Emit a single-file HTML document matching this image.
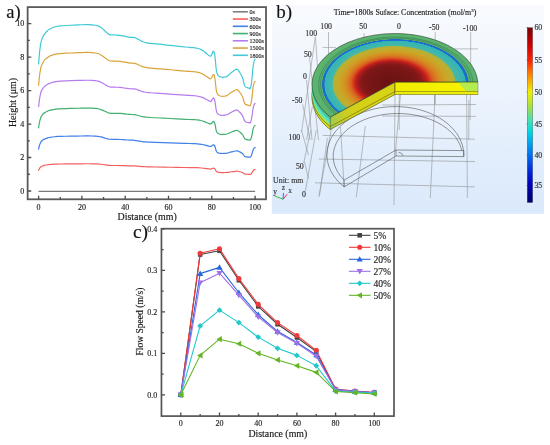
<!DOCTYPE html>
<html><head><meta charset="utf-8"><style>
html,body{margin:0;padding:0;background:#fff;}
svg{display:block;will-change:transform;}
text{font-family:"Liberation Serif", serif;stroke:#262626;stroke-width:0.15px;}
</style></head><body>
<svg width="550" height="445" viewBox="0 0 550 445">
<defs>
<linearGradient id="bgB" x1="0" y1="0" x2="0" y2="1">
 <stop offset="0" stop-color="#f9fbfe"/><stop offset="0.35" stop-color="#eef5fd"/><stop offset="0.7" stop-color="#e3eefc"/><stop offset="1" stop-color="#dae9fb"/>
</linearGradient>
<linearGradient id="cbar" x1="0" y1="0" x2="0" y2="1">
 <stop offset="0" stop-color="#7a0000"/><stop offset="0.10" stop-color="#d00000"/><stop offset="0.19" stop-color="#ff2400"/>
 <stop offset="0.26" stop-color="#ff7a00"/><stop offset="0.32" stop-color="#f8be00"/><stop offset="0.37" stop-color="#f0f000"/>
 <stop offset="0.45" stop-color="#a8e040"/><stop offset="0.52" stop-color="#50e0a8"/><stop offset="0.59" stop-color="#00dce0"/>
 <stop offset="0.66" stop-color="#00a4f0"/><stop offset="0.74" stop-color="#0066f0"/><stop offset="0.81" stop-color="#0030e0"/>
 <stop offset="0.89" stop-color="#0000c0"/><stop offset="1" stop-color="#00006c"/>
</linearGradient>
<radialGradient id="disk" gradientUnits="userSpaceOnUse" cx="396.5" cy="85" r="83" fx="387.5" fy="78.5" gradientTransform="translate(395,85) scale(1,0.618) translate(-395,-85)">
 <stop offset="0" stop-color="#6c1212"/><stop offset="0.28" stop-color="#781616"/><stop offset="0.36" stop-color="#861818"/>
 <stop offset="0.405" stop-color="#a81c1c"/><stop offset="0.432" stop-color="#c81c1c"/><stop offset="0.46" stop-color="#d43a1c"/>
 <stop offset="0.495" stop-color="#d86220"/><stop offset="0.545" stop-color="#d88222"/><stop offset="0.60" stop-color="#d09a22"/><stop offset="0.655" stop-color="#c8a828"/>
 <stop offset="0.71" stop-color="#bab032"/><stop offset="0.735" stop-color="#a8b23c"/><stop offset="0.745" stop-color="#46b8a8"/>
 <stop offset="0.848" stop-color="#32b4b6"/><stop offset="0.855" stop-color="#1e70d2"/><stop offset="0.878" stop-color="#1c64d0"/>
 <stop offset="0.886" stop-color="#56b272"/><stop offset="1" stop-color="#5cb46e"/>
</radialGradient>
<linearGradient id="rface" gradientUnits="userSpaceOnUse" x1="395" y1="0" x2="478" y2="0">
 <stop offset="0" stop-color="#f2ee00"/><stop offset="1" stop-color="#f6f200"/>
</linearGradient>
<linearGradient id="dface" gradientUnits="userSpaceOnUse" x1="330.3" y1="0" x2="395" y2="0">
 <stop offset="0" stop-color="#a0cc50"/><stop offset="0.18" stop-color="#c4cc28"/><stop offset="0.35" stop-color="#d4d018"/><stop offset="1" stop-color="#d8d414"/>
</linearGradient>
<clipPath id="leftclip"><rect x="270" y="0" width="60.3" height="220"/></clipPath>
<clipPath id="panelclip"><rect x="271.8" y="4.5" width="272.2" height="209.3"/></clipPath>
</defs>
<g id="panelB">
<rect x="271.8" y="4.5" width="272.2" height="209.3" fill="url(#bgB)"/>
<g clip-path="url(#panelclip)">
<g stroke="#7c7c7c" stroke-width="0.6" fill="none" opacity="0.8">
<line x1="328.5" y1="32.0" x2="328.5" y2="56.0"/>
<line x1="364.0" y1="33.0" x2="364.0" y2="42.0"/>
<line x1="399.6" y1="33.0" x2="399.6" y2="40.0"/>
<line x1="435.2" y1="32.0" x2="435.2" y2="60.0"/>
<line x1="470.7" y1="32.0" x2="470.7" y2="60.0"/>
<line x1="322.4" y1="47.4" x2="336.0" y2="47.4"/>
<line x1="455.0" y1="48.9" x2="478.0" y2="48.9"/>
<line x1="395.0" y1="95.0" x2="394.0" y2="205.0"/>
<line x1="435.2" y1="92.0" x2="430.3" y2="198.0"/>
<line x1="466.6" y1="92.0" x2="467.4" y2="198.0"/>
<line x1="468.8" y1="100.0" x2="468.8" y2="140.0"/>
<line x1="470.7" y1="60.0" x2="470.0" y2="120.0"/>
<line x1="435.2" y1="60.0" x2="435.2" y2="104.0"/>
<line x1="382.0" y1="105.0" x2="476.0" y2="104.5"/>
<line x1="382.0" y1="116.0" x2="476.0" y2="116.4"/>
<line x1="401.1" y1="88.0" x2="395.5" y2="150.6"/>
<line x1="399.2" y1="88.0" x2="399.2" y2="130.0"/>
<line x1="434.5" y1="95.0" x2="434.5" y2="104.5"/>
<line x1="322.7" y1="135.4" x2="475.0" y2="139.2"/>
<line x1="318.8" y1="159.0" x2="475.0" y2="161.6"/>
<line x1="314.9" y1="182.8" x2="475.0" y2="186.9"/>
<line x1="340.5" y1="127.0" x2="344.1" y2="187.0"/>
<line x1="331.7" y1="127.0" x2="318.8" y2="197.0"/>
<line x1="365.3" y1="125.9" x2="356.3" y2="197.0"/>
<line x1="315.4" y1="36.3" x2="301.5" y2="132.0"/>
<line x1="315.6" y1="38.0" x2="318.0" y2="75.0"/>
<line x1="309.5" y1="57.0" x2="318.5" y2="140.0"/>
<line x1="306.6" y1="80.0" x2="312.0" y2="140.0"/>
<line x1="302.7" y1="104.6" x2="310.0" y2="140.0"/>
<line x1="312.2" y1="106.9" x2="306.6" y2="140.0"/>
<line x1="301.4" y1="130.0" x2="308.5" y2="155.2"/>
<line x1="310.8" y1="130.0" x2="303.7" y2="163.0"/>
<line x1="316.3" y1="130.0" x2="305.3" y2="191.4"/>
<line x1="304.5" y1="161.5" x2="308.5" y2="178.8"/>
<line x1="327.4" y1="137.9" x2="319.5" y2="195.4"/>
</g>
<g stroke="#444" stroke-width="0.55" fill="none">
<path d="M463.8,156.6 A68.5,48.3 0 1,0 344.1,186.9"/>
<path d="M461.8,150.6 A64.6,42.8 0 1,0 344.1,180.1"/>
<path d="M344.1,180.1 L396,150 L463.8,150.6 M344.1,186.9 L396,156 L463.8,156.6 M344.1,180.1 V186.9 M463.8,150.6 V156.6 M396,150 V156"/>
<path d="M398.5,152.3 A5,4 0 0,1 403,155.8"/>
</g>
<g clip-path="url(#leftclip)">
<ellipse cx="395.0" cy="97.5" rx="83.0" ry="51.3" fill="#e2de1c" stroke="#404020" stroke-width="0.6"/>
<ellipse cx="395.0" cy="94.5" rx="83.0" ry="51.3" fill="#b0e840" stroke="#404020" stroke-width="0.5"/>
<ellipse cx="395.0" cy="91.5" rx="83.0" ry="51.3" fill="#50e6c8" />
<ellipse cx="395.0" cy="88.0" rx="83.0" ry="51.3" fill="#50c49a" />
</g>
<path d="M395.0,82.0 L330.3,117.0 L330.3,129.5 L395.0,94.5 Z" fill="url(#dface)" stroke="#303010" stroke-width="0.5"/>
<path d="M330.3,126.5 L395.0,91.5" stroke="#505010" stroke-width="0.5"/>
<path d="M395.0,82.0 L477.8,82.0 L477.8,94.5 L395.0,94.5 Z" fill="url(#rface)" stroke="#303010" stroke-width="0.5"/>
<rect x="395.3" y="91.8" width="82.2" height="2.4" fill="#ecec10"/>
<path d="M458,82.3 L477.5,82.3 L477.5,91.3 L467,91.3 C463,89.5 461,85 458,82.3 Z" fill="#b4ec50"/>
<path d="M395.0,91.5 L477.8,91.5" stroke="#606010" stroke-width="0.5"/>
<path d="M395.0,82.0 L477.8,82.0 A83.0,51.3 0 1,0 330.3,117.0 Z" fill="url(#disk)" stroke="#2a3a2a" stroke-width="0.6"/>
<path d="M470.64,82.00 A75.12,46.43 0 1,0 336.81,113.48" fill="none" stroke="#2e5a38" stroke-width="0.45" opacity="0.8"/>
<path d="M472.93,82.00 A77.19,47.71 0 1,0 335.30,114.29" fill="none" stroke="#2e5a38" stroke-width="0.45" opacity="0.8"/>
</g>
<text x="326.1" y="29.0" font-size="7.8" text-anchor="middle" fill="#333">100</text>
<text x="363.2" y="29.0" font-size="7.8" text-anchor="middle" fill="#333">50</text>
<text x="399.0" y="29.0" font-size="7.8" text-anchor="middle" fill="#333">0</text>
<text x="434.3" y="29.6" font-size="7.8" text-anchor="middle" fill="#333">-50</text>
<text x="470.1" y="30.6" font-size="7.8" text-anchor="middle" fill="#333">-100</text>
<text x="311.2" y="35.8" font-size="7.8" text-anchor="middle" fill="#333">100</text>
<text x="307.8" y="57.0" font-size="7.8" text-anchor="middle" fill="#333">50</text>
<text x="304.9" y="79.0" font-size="7.8" text-anchor="middle" fill="#333">0</text>
<text x="297.3" y="103.2" font-size="7.8" text-anchor="middle" fill="#333">-50</text>
<text x="294.4" y="140.1" font-size="7.8" text-anchor="middle" fill="#333">100</text>
<text x="299.8" y="168.7" font-size="7.8" text-anchor="middle" fill="#333">50</text>
<text x="304.0" y="196.7" font-size="7.8" text-anchor="middle" fill="#333">0</text>
<text x="405" y="15" font-size="8" text-anchor="middle" fill="#222" textLength="142.6" lengthAdjust="spacingAndGlyphs">Time=1800s Suface: Concentration (mol/m<tspan font-size="5" dy="-3">3</tspan><tspan dy="3">)</tspan></text>
<rect x="527.3" y="27.7" width="5.3" height="174.8" fill="url(#cbar)" stroke="#222" stroke-width="0.3"/>
<text x="534.4" y="30.3" font-size="7.8" fill="#333">60</text>
<line x1="526.5" y1="27.6" x2="527.3" y2="27.6" stroke="#333" stroke-width="0.5"/>
<text x="534.4" y="62.6" font-size="7.8" fill="#333">55</text>
<line x1="526.5" y1="59.9" x2="527.3" y2="59.9" stroke="#333" stroke-width="0.5"/>
<text x="534.4" y="94.5" font-size="7.8" fill="#333">50</text>
<line x1="526.5" y1="91.8" x2="527.3" y2="91.8" stroke="#333" stroke-width="0.5"/>
<text x="534.4" y="126.5" font-size="7.8" fill="#333">45</text>
<line x1="526.5" y1="123.8" x2="527.3" y2="123.8" stroke="#333" stroke-width="0.5"/>
<text x="534.4" y="157.8" font-size="7.8" fill="#333">40</text>
<line x1="526.5" y1="155.1" x2="527.3" y2="155.1" stroke="#333" stroke-width="0.5"/>
<text x="534.4" y="188.2" font-size="7.8" fill="#333">35</text>
<line x1="526.5" y1="185.5" x2="527.3" y2="185.5" stroke="#333" stroke-width="0.5"/>
<text x="273.1" y="182.6" font-size="8" fill="#444" textLength="30.2" lengthAdjust="spacingAndGlyphs">Unit: mm</text>
<line x1="283" y1="199.2" x2="274.9" y2="196.1" stroke="#30c030" stroke-width="1"/>
<line x1="283" y1="199.2" x2="283.5" y2="193" stroke="#3070e0" stroke-width="1"/>
<line x1="283" y1="199.2" x2="287.1" y2="194.3" stroke="#e02060" stroke-width="1"/>
<text x="275" y="194" font-size="7.5" text-anchor="middle" fill="#444">y</text>
<text x="283.5" y="190.4" font-size="7.5" text-anchor="middle" fill="#444">z</text>
<text x="290.2" y="193.2" font-size="7.5" text-anchor="middle" fill="#444">x</text>
<text x="276.2" y="18.4" font-size="19" fill="#111">b)</text>
</g>
<g id="panelA">
<path d="M38.60,191.4 H255.10" stroke="#7a7a7a" stroke-width="1.15"/>
<path d="M38.60,170.32 C38.86,169.80 38.95,169.44 39.47,168.57 C39.99,167.69 39.81,167.99 40.33,167.39 C40.85,166.80 40.42,167.07 41.20,166.59 C41.98,166.11 41.76,166.22 42.93,165.80 C44.10,165.39 43.86,165.49 45.09,165.22 C46.33,164.94 45.74,165.08 47.04,164.88 C48.34,164.68 47.15,164.76 49.42,164.55 C51.70,164.33 51.37,164.33 54.62,164.16 C57.87,164.00 55.51,164.08 60.25,164.00 C64.99,163.91 63.93,163.94 70.43,163.88 C76.92,163.82 76.51,163.83 81.90,163.79 C87.29,163.76 84.82,163.75 88.40,163.76 C91.97,163.78 91.08,163.78 93.81,163.85 C96.54,163.91 95.34,163.84 97.49,163.96 C99.63,164.09 98.94,164.04 100.95,164.26 C102.97,164.49 102.38,164.45 104.20,164.72 C106.02,164.98 105.33,164.92 107.01,165.13 C108.70,165.35 107.62,165.32 109.83,165.44 C112.04,165.55 111.32,165.47 114.38,165.50 C117.43,165.54 116.76,165.49 120.00,165.55 C123.25,165.62 122.21,165.62 125.20,165.72 C128.19,165.82 127.17,165.82 129.96,165.89 C132.76,165.95 132.04,165.84 134.51,165.94 C136.98,166.04 135.98,166.04 138.19,166.22 C140.40,166.41 139.60,166.40 141.87,166.56 C144.14,166.72 143.17,166.66 145.77,166.76 C148.37,166.86 145.20,166.79 150.53,166.89 C155.86,167.00 155.66,166.97 163.52,167.11 C171.38,167.25 168.87,167.22 176.73,167.36 C184.59,167.50 184.20,167.48 189.72,167.56 C195.24,167.65 191.56,167.52 195.13,167.65 C198.70,167.77 198.05,167.68 201.62,167.98 C205.20,168.28 204.37,168.33 207.04,168.65 C209.70,168.97 208.94,169.06 210.50,169.03 C212.06,169.01 211.32,168.82 212.23,168.57 C213.14,168.31 212.82,168.15 213.53,168.20 C214.25,168.25 214.09,168.33 214.61,168.73 C215.13,169.13 214.74,168.75 215.26,169.54 C215.78,170.33 215.70,170.62 216.35,171.36 C217.00,172.10 216.71,171.71 217.43,172.00 C218.14,172.29 217.56,172.17 218.73,172.33 C219.90,172.49 219.51,172.48 221.33,172.53 C223.14,172.58 222.97,172.56 224.79,172.50 C226.61,172.44 225.37,172.56 227.39,172.33 C229.40,172.11 229.10,172.06 231.50,171.75 C233.90,171.43 233.64,171.45 235.40,171.29 C237.15,171.14 236.31,171.17 237.35,171.24 C238.39,171.31 237.43,171.16 238.86,171.53 C240.29,171.90 240.68,171.92 242.11,172.47 C243.54,173.01 242.78,172.87 243.63,173.34 C244.47,173.80 243.95,173.73 244.92,174.01 C245.90,174.28 245.64,174.16 246.87,174.26 C248.11,174.36 247.93,174.34 249.04,174.34 C250.14,174.34 249.71,174.68 250.55,174.26 C251.40,173.83 251.01,174.06 251.85,172.92 C252.70,171.78 252.39,171.47 253.37,170.46 C254.34,169.44 254.58,169.81 255.10,169.54" fill="none" stroke="#f46060" stroke-width="1.2" stroke-linejoin="round" stroke-linecap="round"/>
<path d="M38.60,149.05 C38.86,147.99 38.95,147.29 39.47,145.53 C39.99,143.77 39.81,144.37 40.33,143.19 C40.85,142.00 40.42,142.54 41.20,141.58 C41.98,140.63 41.76,140.83 42.93,140.01 C44.10,139.18 43.86,139.39 45.09,138.84 C46.33,138.28 45.74,138.57 47.04,138.17 C48.34,137.76 47.15,137.93 49.42,137.50 C51.70,137.06 51.37,137.06 54.62,136.73 C57.87,136.39 55.51,136.56 60.25,136.39 C64.99,136.22 63.93,136.28 70.43,136.16 C76.92,136.04 76.51,136.06 81.90,135.99 C87.29,135.92 84.82,135.89 88.40,135.92 C91.97,135.95 91.08,135.97 93.81,136.09 C96.54,136.21 95.34,136.07 97.49,136.32 C99.63,136.58 98.94,136.48 100.95,136.93 C102.97,137.38 102.38,137.31 104.20,137.83 C106.02,138.35 105.33,138.24 107.01,138.67 C108.70,139.10 107.62,139.05 109.83,139.27 C112.04,139.49 111.32,139.33 114.38,139.40 C117.43,139.47 116.76,139.37 120.00,139.51 C123.25,139.64 122.21,139.64 125.20,139.84 C128.19,140.04 127.17,140.04 129.96,140.17 C132.76,140.31 132.04,140.07 134.51,140.28 C136.98,140.48 135.98,140.47 138.19,140.84 C140.40,141.22 139.60,141.19 141.87,141.51 C144.14,141.84 143.17,141.71 145.77,141.92 C148.37,142.12 145.20,141.97 150.53,142.18 C155.86,142.39 155.66,142.34 163.52,142.62 C171.38,142.90 168.87,142.85 176.73,143.12 C184.59,143.39 184.20,143.35 189.72,143.52 C195.24,143.69 191.56,143.44 195.13,143.69 C198.70,143.94 198.05,143.76 201.62,144.36 C205.20,144.96 204.37,145.07 207.04,145.70 C209.70,146.33 208.94,146.52 210.50,146.47 C212.06,146.42 211.32,146.03 212.23,145.53 C213.14,145.03 212.82,144.69 213.53,144.79 C214.25,144.90 214.09,145.06 214.61,145.87 C215.13,146.67 214.74,145.90 215.26,147.47 C215.78,149.05 215.70,149.65 216.35,151.12 C217.00,152.60 216.71,151.81 217.43,152.39 C218.14,152.98 217.56,152.74 218.73,153.06 C219.90,153.39 219.51,153.37 221.33,153.47 C223.14,153.57 222.97,153.52 224.79,153.40 C226.61,153.28 225.37,153.52 227.39,153.06 C229.40,152.61 229.10,152.52 231.50,151.89 C233.90,151.27 233.64,151.29 235.40,150.99 C237.15,150.69 236.31,150.75 237.35,150.89 C238.39,151.03 237.43,150.72 238.86,151.46 C240.29,152.19 240.68,152.25 242.11,153.33 C243.54,154.42 242.78,154.15 243.63,155.07 C244.47,156.00 243.95,155.86 244.92,156.41 C245.90,156.96 245.64,156.71 246.87,156.91 C248.11,157.12 247.93,157.08 249.04,157.08 C250.14,157.08 249.71,157.77 250.55,156.91 C251.40,156.06 251.01,156.52 251.85,154.24 C252.70,151.96 252.39,151.34 253.37,149.31 C254.34,147.29 254.58,148.03 255.10,147.47" fill="none" stroke="#4080e8" stroke-width="1.2" stroke-linejoin="round" stroke-linecap="round"/>
<path d="M38.60,127.77 C38.86,126.19 38.95,125.13 39.47,122.50 C39.99,119.86 39.81,120.76 40.33,118.98 C40.85,117.20 40.42,118.00 41.20,116.57 C41.98,115.14 41.76,115.45 42.93,114.21 C44.10,112.98 43.86,113.28 45.09,112.45 C46.33,111.62 45.74,112.05 47.04,111.45 C48.34,110.85 47.15,111.09 49.42,110.44 C51.70,109.80 51.37,109.79 54.62,109.29 C57.87,108.79 55.51,109.04 60.25,108.79 C64.99,108.53 63.93,108.62 70.43,108.44 C76.92,108.25 76.51,108.29 81.90,108.18 C87.29,108.08 84.82,108.04 88.40,108.08 C91.97,108.13 91.08,108.15 93.81,108.34 C96.54,108.52 95.34,108.31 97.49,108.69 C99.63,109.06 98.94,108.91 100.95,109.59 C102.97,110.27 102.38,110.16 104.20,110.95 C106.02,111.73 105.33,111.55 107.01,112.20 C108.70,112.85 107.62,112.77 109.83,113.11 C112.04,113.44 111.32,113.20 114.38,113.31 C117.43,113.41 116.76,113.26 120.00,113.46 C123.25,113.65 122.21,113.66 125.20,113.96 C128.19,114.26 127.17,114.27 129.96,114.46 C132.76,114.66 132.04,114.31 134.51,114.61 C136.98,114.91 135.98,114.91 138.19,115.47 C140.40,116.02 139.60,115.99 141.87,116.47 C144.14,116.95 143.17,116.77 145.77,117.07 C148.37,117.37 145.20,117.16 150.53,117.48 C155.86,117.79 155.66,117.71 163.52,118.13 C171.38,118.55 168.87,118.47 176.73,118.88 C184.59,119.29 184.20,119.23 189.72,119.48 C195.24,119.74 191.56,119.36 195.13,119.74 C198.70,120.11 198.05,119.84 201.62,120.74 C205.20,121.64 204.37,121.80 207.04,122.75 C209.70,123.70 208.94,123.98 210.50,123.90 C212.06,123.83 211.32,123.25 212.23,122.50 C213.14,121.74 212.82,121.24 213.53,121.39 C214.25,121.54 214.09,121.79 214.61,123.00 C215.13,124.20 214.74,123.04 215.26,125.41 C215.78,127.78 215.70,128.67 216.35,130.88 C217.00,133.10 216.71,131.92 217.43,132.79 C218.14,133.67 217.56,133.31 218.73,133.80 C219.90,134.28 219.51,134.25 221.33,134.40 C223.14,134.55 222.97,134.48 224.79,134.30 C226.61,134.12 225.37,134.47 227.39,133.80 C229.40,133.12 229.10,132.97 231.50,132.04 C233.90,131.10 233.64,131.14 235.40,130.68 C237.15,130.23 236.31,130.32 237.35,130.53 C238.39,130.74 237.43,130.29 238.86,131.39 C240.29,132.49 240.68,132.57 242.11,134.20 C243.54,135.83 242.78,135.42 243.63,136.81 C244.47,138.20 243.95,137.99 244.92,138.82 C245.90,139.65 245.64,139.27 246.87,139.57 C248.11,139.87 247.93,139.82 249.04,139.82 C250.14,139.82 249.71,140.85 250.55,139.57 C251.40,138.29 251.01,138.97 251.85,135.55 C252.70,132.13 252.39,131.22 253.37,128.17 C254.34,125.13 254.58,126.24 255.10,125.41" fill="none" stroke="#40b070" stroke-width="1.2" stroke-linejoin="round" stroke-linecap="round"/>
<path d="M38.60,106.49 C38.86,104.38 38.95,102.98 39.47,99.46 C39.99,95.95 39.81,97.15 40.33,94.78 C40.85,92.41 40.42,93.47 41.20,91.56 C41.98,89.65 41.76,90.06 42.93,88.41 C44.10,86.77 43.86,87.18 45.09,86.07 C46.33,84.97 45.74,85.54 47.04,84.73 C48.34,83.93 47.15,84.26 49.42,83.39 C51.70,82.53 51.37,82.52 54.62,81.85 C57.87,81.19 55.51,81.52 60.25,81.18 C64.99,80.84 63.93,80.96 70.43,80.71 C76.92,80.47 76.51,80.52 81.90,80.38 C87.29,80.24 84.82,80.19 88.40,80.25 C91.97,80.31 91.08,80.34 93.81,80.58 C96.54,80.82 95.34,80.55 97.49,81.05 C99.63,81.55 98.94,81.35 100.95,82.25 C102.97,83.16 102.38,83.02 104.20,84.06 C106.02,85.11 105.33,84.87 107.01,85.74 C108.70,86.60 107.62,86.50 109.83,86.94 C112.04,87.38 111.32,87.07 114.38,87.21 C117.43,87.35 116.76,87.15 120.00,87.41 C123.25,87.67 122.21,87.68 125.20,88.08 C128.19,88.48 127.17,88.49 129.96,88.75 C132.76,89.01 132.04,88.55 134.51,88.95 C136.98,89.35 135.98,89.35 138.19,90.09 C140.40,90.83 139.60,90.79 141.87,91.43 C144.14,92.07 143.17,91.83 145.77,92.23 C148.37,92.63 145.20,92.35 150.53,92.77 C155.86,93.19 155.66,93.08 163.52,93.64 C171.38,94.20 168.87,94.10 176.73,94.64 C184.59,95.18 184.20,95.10 189.72,95.45 C195.24,95.79 191.56,95.28 195.13,95.78 C198.70,96.28 198.05,95.91 201.62,97.12 C205.20,98.32 204.37,98.53 207.04,99.80 C209.70,101.06 208.94,101.44 210.50,101.34 C212.06,101.24 211.32,100.47 212.23,99.46 C213.14,98.46 212.82,97.79 213.53,97.99 C214.25,98.19 214.09,98.53 214.61,100.13 C215.13,101.74 214.74,100.19 215.26,103.35 C215.78,106.50 215.70,107.69 216.35,110.65 C217.00,113.60 216.71,112.02 217.43,113.19 C218.14,114.35 217.56,113.89 218.73,114.53 C219.90,115.17 219.51,115.13 221.33,115.33 C223.14,115.53 222.97,115.44 224.79,115.20 C226.61,114.96 225.37,115.43 227.39,114.53 C229.40,113.63 229.10,113.43 231.50,112.19 C233.90,110.94 233.64,110.98 235.40,110.38 C237.15,109.77 236.31,109.90 237.35,110.18 C238.39,110.46 237.43,109.85 238.86,111.31 C240.29,112.78 240.68,112.90 242.11,115.06 C243.54,117.23 242.78,116.70 243.63,118.55 C244.47,120.39 243.95,120.12 244.92,121.23 C245.90,122.33 245.64,121.83 246.87,122.23 C248.11,122.63 247.93,122.56 249.04,122.56 C250.14,122.56 249.71,123.94 250.55,122.23 C251.40,120.52 251.01,121.43 251.85,116.87 C252.70,112.31 252.39,111.09 253.37,107.03 C254.34,102.97 254.58,104.45 255.10,103.35" fill="none" stroke="#b47cec" stroke-width="1.2" stroke-linejoin="round" stroke-linecap="round"/>
<path d="M38.60,85.22 C38.86,82.58 38.95,80.82 39.47,76.43 C39.99,72.03 39.81,73.53 40.33,70.57 C40.85,67.61 40.42,68.94 41.20,66.55 C41.98,64.17 41.76,64.68 42.93,62.62 C44.10,60.56 43.86,61.07 45.09,59.69 C46.33,58.31 45.74,59.02 47.04,58.01 C48.34,57.01 47.15,57.42 49.42,56.34 C51.70,55.26 51.37,55.24 54.62,54.42 C57.87,53.59 55.51,54.01 60.25,53.58 C64.99,53.15 63.93,53.29 70.43,52.99 C76.92,52.69 76.51,52.75 81.90,52.57 C87.29,52.40 84.82,52.33 88.40,52.41 C91.97,52.48 91.08,52.52 93.81,52.83 C96.54,53.13 95.34,52.78 97.49,53.41 C99.63,54.04 98.94,53.79 100.95,54.92 C102.97,56.05 102.38,55.87 104.20,57.18 C106.02,58.48 105.33,58.19 107.01,59.27 C108.70,60.35 107.62,60.22 109.83,60.78 C112.04,61.33 111.32,60.94 114.38,61.11 C117.43,61.29 116.76,61.04 120.00,61.36 C123.25,61.69 122.21,61.70 125.20,62.20 C128.19,62.70 127.17,62.71 129.96,63.04 C132.76,63.36 132.04,62.79 134.51,63.29 C136.98,63.79 135.98,63.78 138.19,64.71 C140.40,65.64 139.60,65.58 141.87,66.38 C144.14,67.19 143.17,66.89 145.77,67.39 C148.37,67.89 145.20,67.53 150.53,68.06 C155.86,68.59 155.66,68.44 163.52,69.15 C171.38,69.85 168.87,69.72 176.73,70.40 C184.59,71.08 184.20,70.98 189.72,71.41 C195.24,71.83 191.56,71.20 195.13,71.83 C198.70,72.45 198.05,71.99 201.62,73.50 C205.20,75.01 204.37,75.27 207.04,76.85 C209.70,78.43 208.94,78.90 210.50,78.77 C212.06,78.65 211.32,77.68 212.23,76.43 C213.14,75.17 212.82,74.34 213.53,74.59 C214.25,74.84 214.09,75.26 214.61,77.27 C215.13,79.27 214.74,77.34 215.26,81.28 C215.78,85.23 215.70,86.72 216.35,90.41 C217.00,94.10 216.71,92.13 217.43,93.59 C218.14,95.04 217.56,94.46 218.73,95.26 C219.90,96.06 219.51,96.01 221.33,96.27 C223.14,96.52 222.97,96.40 224.79,96.10 C226.61,95.80 225.37,96.39 227.39,95.26 C229.40,94.13 229.10,93.89 231.50,92.33 C233.90,90.77 233.64,90.83 235.40,90.07 C237.15,89.32 236.31,89.47 237.35,89.82 C238.39,90.17 237.43,89.41 238.86,91.24 C240.29,93.08 240.68,93.22 242.11,95.93 C243.54,98.64 242.78,97.97 243.63,100.28 C244.47,102.59 243.95,102.25 244.92,103.63 C245.90,105.01 245.64,104.38 246.87,104.89 C248.11,105.39 247.93,105.31 249.04,105.31 C250.14,105.31 249.71,107.02 250.55,104.89 C251.40,102.75 251.01,103.89 251.85,98.19 C252.70,92.49 252.39,90.96 253.37,85.89 C254.34,80.81 254.58,82.66 255.10,81.28" fill="none" stroke="#dca43c" stroke-width="1.2" stroke-linejoin="round" stroke-linecap="round"/>
<path d="M38.60,63.94 C38.86,60.78 38.95,58.67 39.47,53.39 C39.99,48.12 39.81,49.92 40.33,46.36 C40.85,42.81 40.42,44.41 41.20,41.54 C41.98,38.68 41.76,39.29 42.93,36.82 C44.10,34.35 43.86,34.96 45.09,33.31 C46.33,31.65 45.74,32.50 47.04,31.30 C48.34,30.09 47.15,30.58 49.42,29.29 C51.70,27.99 51.37,27.97 54.62,26.98 C57.87,25.98 55.51,26.49 60.25,25.97 C64.99,25.46 63.93,25.63 70.43,25.27 C76.92,24.91 76.51,24.98 81.90,24.77 C87.29,24.56 84.82,24.48 88.40,24.57 C91.97,24.66 91.08,24.71 93.81,25.07 C96.54,25.43 95.34,25.02 97.49,25.77 C99.63,26.53 98.94,26.23 100.95,27.58 C102.97,28.94 102.38,28.73 104.20,30.29 C106.02,31.86 105.33,31.51 107.01,32.80 C108.70,34.10 107.62,33.95 109.83,34.61 C112.04,35.28 111.32,34.80 114.38,35.01 C117.43,35.22 116.76,34.92 120.00,35.32 C123.25,35.71 122.21,35.72 125.20,36.32 C128.19,36.92 127.17,36.93 129.96,37.32 C132.76,37.72 132.04,37.02 134.51,37.63 C136.98,38.23 135.98,38.22 138.19,39.33 C140.40,40.45 139.60,40.38 141.87,41.34 C144.14,42.31 143.17,41.94 145.77,42.55 C148.37,43.15 145.20,42.72 150.53,43.35 C155.86,43.98 155.66,43.81 163.52,44.66 C171.38,45.50 168.87,45.35 176.73,46.16 C184.59,46.98 184.20,46.86 189.72,47.37 C195.24,47.88 191.56,47.12 195.13,47.87 C198.70,48.62 198.05,48.07 201.62,49.88 C205.20,51.69 204.37,52.00 207.04,53.90 C209.70,55.80 208.94,56.36 210.50,56.21 C212.06,56.06 211.32,54.90 212.23,53.39 C213.14,51.89 212.82,50.88 213.53,51.18 C214.25,51.49 214.09,51.99 214.61,54.40 C215.13,56.81 214.74,54.49 215.26,59.22 C215.78,63.95 215.70,65.74 216.35,70.17 C217.00,74.60 216.71,72.24 217.43,73.98 C218.14,75.73 217.56,75.03 218.73,75.99 C219.90,76.96 219.51,76.90 221.33,77.20 C223.14,77.50 222.97,77.36 224.79,77.00 C226.61,76.64 225.37,77.35 227.39,75.99 C229.40,74.64 229.10,74.35 231.50,72.48 C233.90,70.61 233.64,70.67 235.40,69.77 C237.15,68.86 236.31,69.04 237.35,69.46 C238.39,69.89 237.43,68.97 238.86,71.17 C240.29,73.37 240.68,73.54 242.11,76.80 C243.54,80.05 242.78,79.25 243.63,82.02 C244.47,84.79 243.95,84.38 244.92,86.04 C245.90,87.69 245.64,86.94 246.87,87.54 C248.11,88.15 247.93,88.05 249.04,88.05 C250.14,88.05 249.71,90.11 250.55,87.54 C251.40,84.98 251.01,86.35 251.85,79.51 C252.70,72.67 252.39,70.83 253.37,64.74 C254.34,58.66 254.58,60.88 255.10,59.22" fill="none" stroke="#40cad6" stroke-width="1.2" stroke-linejoin="round" stroke-linecap="round"/>
<rect x="27.65" y="7.10" width="238.35" height="192.20" fill="none" stroke="#5a5a5a" stroke-width="1.8"/>
<path d="M27.65,191.00 h3.60 M27.65,174.26 h2.20 M27.65,157.52 h3.60 M27.65,140.78 h2.20 M27.65,124.04 h3.60 M27.65,107.30 h2.20 M27.65,90.56 h3.60 M27.65,73.82 h2.20 M27.65,57.08 h3.60 M27.65,40.34 h2.20 M27.65,23.60 h3.60 M38.60,199.30 v-3.60 M60.25,199.30 v-2.20 M81.90,199.30 v-3.60 M103.55,199.30 v-2.20 M125.20,199.30 v-3.60 M146.85,199.30 v-2.20 M168.50,199.30 v-3.60 M190.15,199.30 v-2.20 M211.80,199.30 v-3.60 M233.45,199.30 v-2.20 M255.10,199.30 v-3.60" stroke="#4a4a4a" stroke-width="1.3" fill="none"/>
<text x="24.3" y="193.80" font-size="8" text-anchor="end" fill="#222">0</text>
<text x="24.3" y="160.32" font-size="8" text-anchor="end" fill="#222">2</text>
<text x="24.3" y="126.84" font-size="8" text-anchor="end" fill="#222">4</text>
<text x="24.3" y="93.36" font-size="8" text-anchor="end" fill="#222">6</text>
<text x="24.3" y="59.88" font-size="8" text-anchor="end" fill="#222">8</text>
<text x="24.3" y="26.40" font-size="8" text-anchor="end" fill="#222">10</text>
<text x="38.60" y="209.8" font-size="8" text-anchor="middle" fill="#222">0</text>
<text x="81.90" y="209.8" font-size="8" text-anchor="middle" fill="#222">20</text>
<text x="125.20" y="209.8" font-size="8" text-anchor="middle" fill="#222">40</text>
<text x="168.50" y="209.8" font-size="8" text-anchor="middle" fill="#222">60</text>
<text x="211.80" y="209.8" font-size="8" text-anchor="middle" fill="#222">80</text>
<text x="255.10" y="209.8" font-size="8" text-anchor="middle" fill="#222">100</text>
<text x="117.5" y="219.8" font-size="10.3" fill="#111" textLength="59.3" lengthAdjust="spacingAndGlyphs">Distance (mm)</text>
<text transform="translate(15.8,127.1) rotate(-90)" font-size="10.3" fill="#111" textLength="49.1" lengthAdjust="spacingAndGlyphs">Height (μm)</text>
<path d="M232.8,11.80 H247.9" stroke="#7f7f7f" stroke-width="1.6"/>
<text x="249.4" y="14.20" font-size="7.1" fill="#222" textLength="5.38" lengthAdjust="spacingAndGlyphs">0s</text>
<path d="M232.8,19.05 H247.9" stroke="#f46060" stroke-width="1.6"/>
<text x="249.4" y="21.45" font-size="7.1" fill="#222" textLength="11.43" lengthAdjust="spacingAndGlyphs">300s</text>
<path d="M232.8,26.30 H247.9" stroke="#4080e8" stroke-width="1.6"/>
<text x="249.4" y="28.70" font-size="7.1" fill="#222" textLength="11.43" lengthAdjust="spacingAndGlyphs">600s</text>
<path d="M232.8,33.55 H247.9" stroke="#40b070" stroke-width="1.6"/>
<text x="249.4" y="35.95" font-size="7.1" fill="#222" textLength="11.43" lengthAdjust="spacingAndGlyphs">900s</text>
<path d="M232.8,40.80 H247.9" stroke="#b47cec" stroke-width="1.6"/>
<text x="249.4" y="43.20" font-size="7.1" fill="#222" textLength="14.45" lengthAdjust="spacingAndGlyphs">1200s</text>
<path d="M232.8,48.05 H247.9" stroke="#dca43c" stroke-width="1.6"/>
<text x="249.4" y="50.45" font-size="7.1" fill="#222" textLength="14.45" lengthAdjust="spacingAndGlyphs">1500s</text>
<path d="M232.8,55.30 H247.9" stroke="#40cad6" stroke-width="1.6"/>
<text x="249.4" y="57.70" font-size="7.1" fill="#222" textLength="14.45" lengthAdjust="spacingAndGlyphs">1800s</text>
<text x="6.2" y="17.7" font-size="18.5" fill="#111">a)</text>
</g>
<g id="panelC">
<path d="M180.80,394.80 L200.15,254.53 L219.50,250.80 L238.85,280.26 L258.20,306.41 L277.55,324.25 L296.90,337.53 L316.25,351.64 L335.60,389.82 L354.95,391.48 L374.30,392.73" fill="none" stroke="#404040" stroke-width="1.1" stroke-linejoin="round"/>
<rect x="178.55" y="392.55" width="4.50" height="4.50" fill="#404040"/>
<rect x="197.90" y="252.28" width="4.50" height="4.50" fill="#404040"/>
<rect x="217.25" y="248.55" width="4.50" height="4.50" fill="#404040"/>
<rect x="236.60" y="278.01" width="4.50" height="4.50" fill="#404040"/>
<rect x="255.95" y="304.16" width="4.50" height="4.50" fill="#404040"/>
<rect x="275.30" y="322.00" width="4.50" height="4.50" fill="#404040"/>
<rect x="294.65" y="335.28" width="4.50" height="4.50" fill="#404040"/>
<rect x="314.00" y="349.39" width="4.50" height="4.50" fill="#404040"/>
<rect x="333.35" y="387.57" width="4.50" height="4.50" fill="#404040"/>
<rect x="352.70" y="389.23" width="4.50" height="4.50" fill="#404040"/>
<rect x="372.05" y="390.48" width="4.50" height="4.50" fill="#404040"/>
<path d="M180.80,394.80 L200.15,253.28 L219.50,248.72 L238.85,278.60 L258.20,304.33 L277.55,322.59 L296.90,335.46 L316.25,350.39 L335.60,388.99 L354.95,391.06 L374.30,392.31" fill="none" stroke="#f03a3a" stroke-width="1.1" stroke-linejoin="round"/>
<circle cx="180.80" cy="394.80" r="2.55" fill="#f03a3a"/>
<circle cx="200.15" cy="253.28" r="2.55" fill="#f03a3a"/>
<circle cx="219.50" cy="248.72" r="2.55" fill="#f03a3a"/>
<circle cx="238.85" cy="278.60" r="2.55" fill="#f03a3a"/>
<circle cx="258.20" cy="304.33" r="2.55" fill="#f03a3a"/>
<circle cx="277.55" cy="322.59" r="2.55" fill="#f03a3a"/>
<circle cx="296.90" cy="335.46" r="2.55" fill="#f03a3a"/>
<circle cx="316.25" cy="350.39" r="2.55" fill="#f03a3a"/>
<circle cx="335.60" cy="388.99" r="2.55" fill="#f03a3a"/>
<circle cx="354.95" cy="391.06" r="2.55" fill="#f03a3a"/>
<circle cx="374.30" cy="392.31" r="2.55" fill="#f03a3a"/>
<path d="M180.80,394.80 L200.15,273.62 L219.50,267.39 L238.85,292.71 L258.20,314.71 L277.55,331.31 L296.90,342.51 L316.25,354.96 L335.60,389.41 L354.95,391.48 L374.30,392.73" fill="none" stroke="#2a66e0" stroke-width="1.1" stroke-linejoin="round"/>
<path d="M180.80,391.70 L183.90,397.12 L177.70,397.12 Z" fill="#2a66e0"/>
<path d="M200.15,270.52 L203.25,275.94 L197.05,275.94 Z" fill="#2a66e0"/>
<path d="M219.50,264.29 L222.60,269.72 L216.40,269.72 Z" fill="#2a66e0"/>
<path d="M238.85,289.61 L241.95,295.04 L235.75,295.04 Z" fill="#2a66e0"/>
<path d="M258.20,311.61 L261.30,317.03 L255.10,317.03 Z" fill="#2a66e0"/>
<path d="M277.55,328.20 L280.65,333.63 L274.45,333.63 Z" fill="#2a66e0"/>
<path d="M296.90,339.41 L300.00,344.83 L293.80,344.83 Z" fill="#2a66e0"/>
<path d="M316.25,351.86 L319.35,357.29 L313.15,357.29 Z" fill="#2a66e0"/>
<path d="M335.60,386.31 L338.70,391.73 L332.50,391.73 Z" fill="#2a66e0"/>
<path d="M354.95,388.38 L358.05,393.81 L351.85,393.81 Z" fill="#2a66e0"/>
<path d="M374.30,389.62 L377.40,395.05 L371.20,395.05 Z" fill="#2a66e0"/>
<path d="M180.80,394.80 L200.15,282.75 L219.50,273.21 L238.85,295.20 L258.20,316.78 L277.55,332.55 L296.90,343.34 L316.25,356.21 L335.60,389.82 L354.95,391.48 L374.30,392.73" fill="none" stroke="#a070e8" stroke-width="1.1" stroke-linejoin="round"/>
<path d="M180.80,397.90 L183.90,392.48 L177.70,392.48 Z" fill="#a070e8"/>
<path d="M200.15,285.85 L203.25,280.43 L197.05,280.43 Z" fill="#a070e8"/>
<path d="M219.50,276.31 L222.60,270.88 L216.40,270.88 Z" fill="#a070e8"/>
<path d="M238.85,298.30 L241.95,292.88 L235.75,292.88 Z" fill="#a070e8"/>
<path d="M258.20,319.88 L261.30,314.46 L255.10,314.46 Z" fill="#a070e8"/>
<path d="M277.55,335.65 L280.65,330.23 L274.45,330.23 Z" fill="#a070e8"/>
<path d="M296.90,346.44 L300.00,341.02 L293.80,341.02 Z" fill="#a070e8"/>
<path d="M316.25,359.31 L319.35,353.88 L313.15,353.88 Z" fill="#a070e8"/>
<path d="M335.60,392.92 L338.70,387.50 L332.50,387.50 Z" fill="#a070e8"/>
<path d="M354.95,394.58 L358.05,389.16 L351.85,389.16 Z" fill="#a070e8"/>
<path d="M374.30,395.83 L377.40,390.40 L371.20,390.40 Z" fill="#a070e8"/>
<path d="M180.80,394.80 L200.15,325.91 L219.50,310.14 L238.85,322.59 L258.20,337.12 L277.55,348.32 L296.90,355.38 L316.25,365.75 L335.60,391.06 L354.95,392.31 L374.30,393.14" fill="none" stroke="#22c8cc" stroke-width="1.1" stroke-linejoin="round"/>
<path d="M180.80,391.90 L183.70,394.80 L180.80,397.70 L177.90,394.80 Z" fill="#22c8cc"/>
<path d="M200.15,323.01 L203.05,325.91 L200.15,328.81 L197.25,325.91 Z" fill="#22c8cc"/>
<path d="M219.50,307.24 L222.40,310.14 L219.50,313.04 L216.60,310.14 Z" fill="#22c8cc"/>
<path d="M238.85,319.69 L241.75,322.59 L238.85,325.49 L235.95,322.59 Z" fill="#22c8cc"/>
<path d="M258.20,334.22 L261.10,337.12 L258.20,340.01 L255.30,337.12 Z" fill="#22c8cc"/>
<path d="M277.55,345.42 L280.45,348.32 L277.55,351.22 L274.65,348.32 Z" fill="#22c8cc"/>
<path d="M296.90,352.48 L299.80,355.38 L296.90,358.27 L294.00,355.38 Z" fill="#22c8cc"/>
<path d="M316.25,362.85 L319.15,365.75 L316.25,368.65 L313.35,365.75 Z" fill="#22c8cc"/>
<path d="M335.60,388.17 L338.50,391.06 L335.60,393.96 L332.70,391.06 Z" fill="#22c8cc"/>
<path d="M354.95,389.41 L357.85,392.31 L354.95,395.21 L352.05,392.31 Z" fill="#22c8cc"/>
<path d="M374.30,390.24 L377.20,393.14 L374.30,396.04 L371.40,393.14 Z" fill="#22c8cc"/>
<path d="M180.80,394.80 L200.15,355.38 L219.50,339.19 L238.85,343.75 L258.20,353.30 L277.55,359.94 L296.90,365.75 L316.25,372.39 L335.60,391.48 L354.95,392.73 L374.30,393.97" fill="none" stroke="#64b424" stroke-width="1.1" stroke-linejoin="round"/>
<path d="M177.70,394.80 L183.12,391.70 L183.12,397.90 Z" fill="#64b424"/>
<path d="M197.05,355.38 L202.47,352.27 L202.47,358.48 Z" fill="#64b424"/>
<path d="M216.40,339.19 L221.82,336.09 L221.82,342.29 Z" fill="#64b424"/>
<path d="M235.75,343.75 L241.18,340.65 L241.18,346.86 Z" fill="#64b424"/>
<path d="M255.10,353.30 L260.53,350.20 L260.53,356.40 Z" fill="#64b424"/>
<path d="M274.45,359.94 L279.88,356.84 L279.88,363.04 Z" fill="#64b424"/>
<path d="M293.80,365.75 L299.23,362.65 L299.23,368.85 Z" fill="#64b424"/>
<path d="M313.15,372.39 L318.57,369.29 L318.57,375.49 Z" fill="#64b424"/>
<path d="M332.50,391.48 L337.93,388.38 L337.93,394.58 Z" fill="#64b424"/>
<path d="M351.85,392.73 L357.28,389.62 L357.28,395.83 Z" fill="#64b424"/>
<path d="M371.20,393.97 L376.62,390.87 L376.62,397.07 Z" fill="#64b424"/>
<rect x="161.45" y="228.70" width="232.55" height="187.40" fill="none" stroke="#555" stroke-width="1.7"/>
<path d="M161.45,394.80 h3.60 M161.45,374.05 h2.20 M161.45,353.30 h3.60 M161.45,332.55 h2.20 M161.45,311.80 h3.60 M161.45,291.05 h2.20 M161.45,270.30 h3.60 M161.45,249.55 h2.20 M161.45,228.80 h3.60 M180.80,416.10 v-3.60 M200.15,416.10 v-2.20 M219.50,416.10 v-3.60 M238.85,416.10 v-2.20 M258.20,416.10 v-3.60 M277.55,416.10 v-2.20 M296.90,416.10 v-3.60 M316.25,416.10 v-2.20 M335.60,416.10 v-3.60 M354.95,416.10 v-2.20 M374.30,416.10 v-3.60" stroke="#4a4a4a" stroke-width="1.3" fill="none"/>
<text x="157.3" y="397.60" font-size="8" text-anchor="end" fill="#222">0.0</text>
<text x="157.3" y="356.10" font-size="8" text-anchor="end" fill="#222">0.1</text>
<text x="157.3" y="314.60" font-size="8" text-anchor="end" fill="#222">0.2</text>
<text x="157.3" y="273.10" font-size="8" text-anchor="end" fill="#222">0.3</text>
<text x="157.3" y="231.60" font-size="8" text-anchor="end" fill="#222">0.4</text>
<text x="180.80" y="426.4" font-size="8" text-anchor="middle" fill="#222">0</text>
<text x="219.50" y="426.4" font-size="8" text-anchor="middle" fill="#222">20</text>
<text x="258.20" y="426.4" font-size="8" text-anchor="middle" fill="#222">40</text>
<text x="296.90" y="426.4" font-size="8" text-anchor="middle" fill="#222">60</text>
<text x="335.60" y="426.4" font-size="8" text-anchor="middle" fill="#222">80</text>
<text x="374.30" y="426.4" font-size="8" text-anchor="middle" fill="#222">100</text>
<text x="248.4" y="437.4" font-size="10.3" fill="#111" textLength="58.9" lengthAdjust="spacingAndGlyphs">Distance (mm)</text>
<text transform="translate(143.3,355.5) rotate(-90)" font-size="10.1" fill="#111" textLength="67.9" lengthAdjust="spacingAndGlyphs">Flow Speed (m/s)</text>
<path d="M348.9,235.30 H370.5" stroke="#404040" stroke-width="1.1"/>
<rect x="357.45" y="233.05" width="4.50" height="4.50" fill="#404040"/>
<text x="373.4" y="238.70" font-size="9.6" fill="#222">5%</text>
<path d="M348.9,247.30 H370.5" stroke="#f03a3a" stroke-width="1.1"/>
<circle cx="359.70" cy="247.30" r="2.55" fill="#f03a3a"/>
<text x="373.4" y="250.70" font-size="9.6" fill="#222">10%</text>
<path d="M348.9,259.30 H370.5" stroke="#2a66e0" stroke-width="1.1"/>
<path d="M359.70,256.20 L362.80,261.62 L356.60,261.62 Z" fill="#2a66e0"/>
<text x="373.4" y="262.70" font-size="9.6" fill="#222">20%</text>
<path d="M348.9,271.30 H370.5" stroke="#a070e8" stroke-width="1.1"/>
<path d="M359.70,274.40 L362.80,268.98 L356.60,268.98 Z" fill="#a070e8"/>
<text x="373.4" y="274.70" font-size="9.6" fill="#222">27%</text>
<path d="M348.9,283.30 H370.5" stroke="#22c8cc" stroke-width="1.1"/>
<path d="M359.70,280.40 L362.60,283.30 L359.70,286.20 L356.80,283.30 Z" fill="#22c8cc"/>
<text x="373.4" y="286.70" font-size="9.6" fill="#222">40%</text>
<path d="M348.9,295.30 H370.5" stroke="#64b424" stroke-width="1.1"/>
<path d="M356.60,295.30 L362.02,292.20 L362.02,298.40 Z" fill="#64b424"/>
<text x="373.4" y="298.70" font-size="9.6" fill="#222">50%</text>
<text x="132.9" y="237.9" font-size="19.5" fill="#111">c)</text>
</g>
</svg>
</body></html>
